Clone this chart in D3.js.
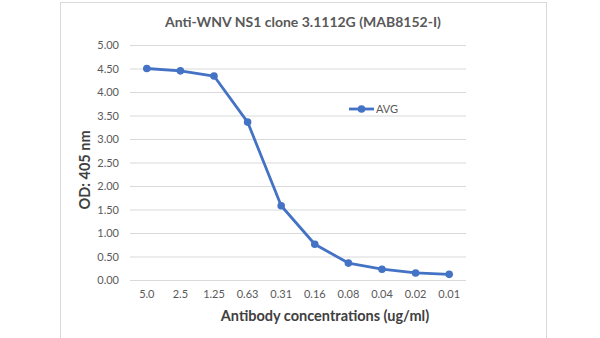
<!DOCTYPE html>
<html>
<head>
<meta charset="utf-8">
<script src="https://cdn.jsdelivr.net/npm/d3@7"></script>
<style>
  body { margin: 0; background: #fff; }
  svg { display: block; }
</style>
</head>
<body>
<svg id="drawing_region"></svg>
<script>
const concentrations = ["5.0", "2.5", "1.25", "0.63", "0.31", "0.16", "0.08", "0.04", "0.02", "0.01"];
const avgValues = [4.50, 4.45, 4.34, 3.36, 1.58, 0.76, 0.36, 0.23, 0.15, 0.12];
const yTicks = [0, 0.5, 1, 1.5, 2, 2.5, 3, 3.5, 4, 4.5, 5];

const W = 600, H = 338;
const margin = {top: 45, left: 130, right: 134, bottom: 58};
const innerW = W - margin.left - margin.right;
const innerH = H - margin.top - margin.bottom;
const font = "Lato, 'Open Sans', sans-serif";
const blue = "#4472c4";

const svg = d3.select("#drawing_region")
    .attr("width", W)
    .attr("height", H);

// outer chart border
svg.append("rect")
    .attr("x", 60.5).attr("y", 2.5)
    .attr("width", 486).attr("height", 345)
    .attr("fill", "white")
    .attr("stroke", "#d9d9d9");

const chart = svg.append("g")
    .attr("transform", `translate(${margin.left}, ${margin.top})`);

const x = d3.scaleBand()
    .domain(concentrations)
    .range([0, innerW]);

const y = d3.scaleLinear()
    .domain([0, 5])
    .range([innerH, 0]);

// gridlines + y labels
const yAxis = d3.axisLeft(y)
    .tickValues(yTicks)
    .tickSize(-innerW)
    .tickPadding(11)
    .tickFormat(d3.format(".2f"));

chart.append("g")
    .call(yAxis)
    .call(g => g.select(".domain").remove())
    .call(g => g.selectAll("line").attr("stroke", "#d9d9d9"))
    .call(g => g.selectAll("text")
        .attr("fill", "#595959")
        .style("font-family", font)
        .style("font-size", "11px"));

// x labels
const xAxis = d3.axisBottom(x)
    .tickSize(0)
    .tickPadding(10);

chart.append("g")
    .attr("transform", `translate(0, ${innerH})`)
    .call(xAxis)
    .call(g => g.select(".domain").remove())
    .call(g => g.selectAll("text")
        .attr("fill", "#595959")
        .style("font-family", font)
        .style("font-size", "11px"));

const line = d3.line()
    .x((d, i) => x(concentrations[i]) + x.bandwidth() / 2)
    .y(d => y(d));

chart.append("path")
    .datum(avgValues)
    .attr("d", line)
    .attr("fill", "none")
    .attr("stroke", blue)
    .attr("stroke-width", 2.8)
    .attr("stroke-linejoin", "round");

chart.selectAll("circle.pt")
    .data(avgValues)
    .join("circle")
    .attr("class", "pt")
    .attr("cx", (d, i) => x(concentrations[i]) + x.bandwidth() / 2)
    .attr("cy", d => y(d))
    .attr("r", 3.8)
    .attr("fill", blue);

// legend
const legend = svg.append("g").attr("transform", "translate(349, 109)");
legend.append("line")
    .attr("x1", 0).attr("x2", 25)
    .attr("stroke", blue).attr("stroke-width", 2.8);
legend.append("circle")
    .attr("cx", 12.5).attr("r", 3.8).attr("fill", blue);
legend.append("text")
    .attr("x", 27).attr("y", 4)
    .attr("fill", "#595959")
    .style("font-family", font)
    .style("font-size", "11px")
    .text("AVG");

// title
svg.append("text")
    .attr("x", 303).attr("y", 27)
    .attr("text-anchor", "middle")
    .attr("fill", "#595959")
    .style("font-family", font)
    .style("font-size", "14px")
    .style("font-weight", "bold")
    .text("Anti-WNV NS1 clone 3.1112G (MAB8152-I)");

// axis titles
svg.append("text")
    .attr("transform", "translate(90, 170) rotate(-90)")
    .attr("text-anchor", "middle")
    .attr("fill", "#404040")
    .style("font-family", font)
    .style("font-size", "14.5px")
    .style("font-weight", "bold")
    .text("OD: 405 nm");

svg.append("text")
    .attr("x", 325).attr("y", 321)
    .attr("text-anchor", "middle")
    .attr("fill", "#404040")
    .style("font-family", font)
    .style("font-size", "14.5px")
    .style("font-weight", "bold")
    .text("Antibody concentrations (ug/ml)");
</script>
</body>
</html>
